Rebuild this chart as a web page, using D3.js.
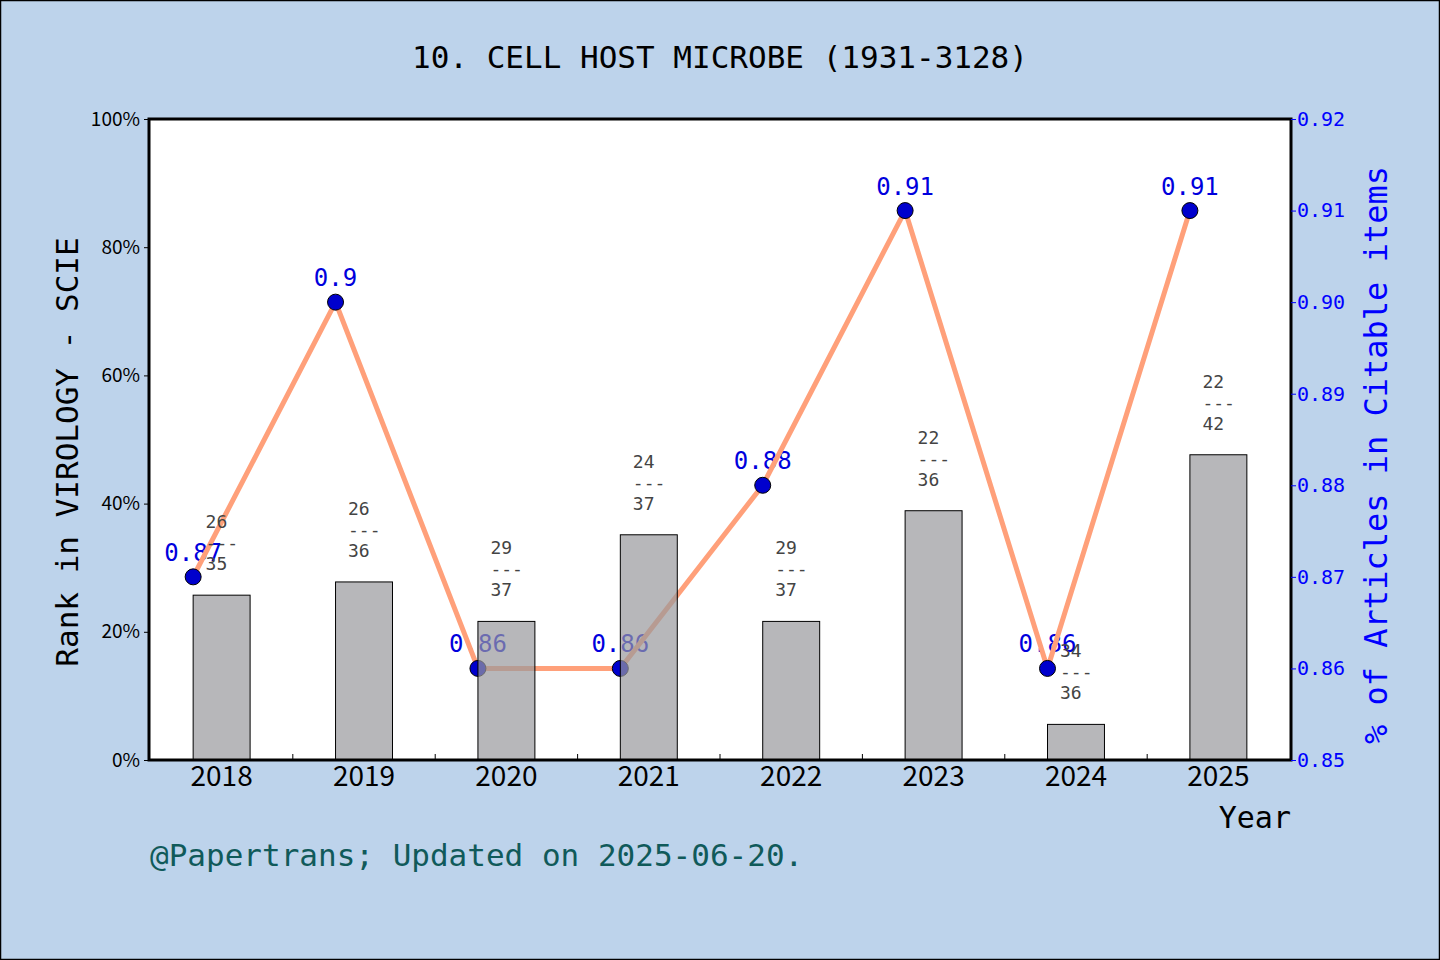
<!DOCTYPE html>
<html>
<head>
<meta charset="utf-8">
<script src="https://cdn.jsdelivr.net/npm/d3@7/dist/d3.min.js"></script>
<style>
  html, body { margin: 0; padding: 0; background: #bdd3eb; }
  svg { display: block; }
</style>
</head>
<body>
<script>
// chart data
var years = ["2018", "2019", "2020", "2021", "2022", "2023", "2024", "2025"];
var rank = [26, 26, 29, 24, 29, 22, 34, 22];
var total = [35, 36, 37, 37, 37, 36, 36, 42];
var citable = [0.87, 0.90, 0.86, 0.86, 0.88, 0.91, 0.86, 0.91];
var leftTicks = [0, 20, 40, 60, 80, 100];
var rightTicks = [0.85, 0.86, 0.87, 0.88, 0.89, 0.90, 0.91, 0.92];

var width = 1440, height = 960;
var plotLeft = 149, plotRight = 1291, plotTop = 119, plotBottom = 760;
var mono = "'DejaVu Sans Mono', monospace";
var sans = "'Noto Sans CJK SC', 'Noto Sans', sans-serif";

var data = years.map(function(y, i){
  return {year: y, rank: rank[i], total: total[i], pct: (total[i] - rank[i]) / total[i] * 100, cit: citable[i]};
});

var svg = d3.select("body").append("svg")
  .attr("width", width)
  .attr("height", height);

svg.append("rect")
  .attr("x", 0.5).attr("y", 0.5)
  .attr("width", width - 1).attr("height", height - 1)
  .attr("fill", "#bdd3eb")
  .attr("stroke", "#000").attr("stroke-width", 1.5);

svg.append("rect")
  .attr("x", plotLeft).attr("y", plotTop)
  .attr("width", plotRight - plotLeft).attr("height", plotBottom - plotTop)
  .attr("fill", "#fff");

var xScale = d3.scaleBand().domain(years).range([plotLeft, plotRight])
  .paddingInner(0.6).paddingOuter(0.31);
var yLeft = d3.scaleLinear().domain([0, 100]).range([plotBottom, plotTop]);
var yRight = d3.scaleLinear().domain([0.85, 0.92]).range([plotBottom, plotTop]);

// title
svg.append("text")
  .attr("x", 720).attr("y", 68)
  .attr("text-anchor", "middle")
  .style("font-family", mono).style("font-size", "31px")
  .text("10. CELL HOST MICROBE (1931-3128)");

// line + points + labels (under the bars)
var line = d3.line()
  .x(function(d){ return xScale(d.year); })
  .y(function(d){ return yRight(d.cit); });

svg.append("g").selectAll("text").data(data).enter().append("text")
  .attr("x", function(d){ return xScale(d.year); })
  .attr("y", function(d){ return yRight(d.cit) - 16; })
  .attr("text-anchor", "middle")
  .attr("fill", "#0000dd")
  .style("font-family", mono).style("font-size", "24px")
  .text(function(d){ return d3.format(".2~f")(d.cit); });

svg.append("path").datum(data)
  .attr("d", line)
  .attr("fill", "none")
  .attr("stroke", "#ffa07a")
  .attr("stroke-width", 5)
  .attr("stroke-linejoin", "round");

svg.append("g").selectAll("circle").data(data).enter().append("circle")
  .attr("cx", function(d){ return xScale(d.year); })
  .attr("cy", function(d){ return yRight(d.cit); })
  .attr("r", 8)
  .attr("fill", "#0000cd")
  .attr("stroke", "#000").attr("stroke-width", 1);

// bars
svg.append("g").selectAll("rect").data(data).enter().append("rect")
  .attr("x", function(d){ return xScale(d.year); })
  .attr("y", function(d){ return yLeft(d.pct); })
  .attr("width", xScale.bandwidth())
  .attr("height", function(d){ return plotBottom - yLeft(d.pct); })
  .attr("fill", "rgb(152,153,156)")
  .attr("fill-opacity", 0.7)
  .attr("stroke", "#000").attr("stroke-width", 1);

// rank labels
var lab = svg.append("g").selectAll("text").data(data).enter().append("text")
  .attr("fill", "#444")
  .style("font-family", mono).style("font-size", "18px");
lab.each(function(d){
  var t = d3.select(this);
  var x0 = xScale(d.year) + xScale.bandwidth() / 2 - 16;
  var yb = yLeft(d.pct) - 31;
  t.append("tspan").attr("x", x0).attr("y", yb - 42 + 6).text(d.rank);
  t.append("tspan").attr("x", x0).attr("y", yb - 21 + 6).text("---");
  t.append("tspan").attr("x", x0).attr("y", yb + 6).text(d.total);
});

// frame
svg.append("rect")
  .attr("x", plotLeft).attr("y", plotTop)
  .attr("width", plotRight - plotLeft).attr("height", plotBottom - plotTop)
  .attr("fill", "none")
  .attr("stroke", "#000").attr("stroke-width", 3);

// left axis
var gl = svg.append("g").attr("transform", "translate(" + plotLeft + ",0)")
  .call(d3.axisLeft(yLeft).tickValues(leftTicks).tickSize(5).tickPadding(4)
    .tickFormat(function(d){ return d + "%"; }));
gl.select(".domain").remove();
gl.selectAll("line").attr("stroke", "#000");
gl.selectAll("text").style("font-family", sans).style("font-size", "19px").attr("fill", "#000");

// right axis
var gr = svg.append("g").attr("transform", "translate(" + plotRight + ",0)")
  .call(d3.axisRight(yRight).tickValues(rightTicks).tickSize(5).tickPadding(1)
    .tickFormat(d3.format(".2f")));
gr.select(".domain").remove();
gr.selectAll("line").attr("stroke", "#0000ff");
gr.selectAll("text").style("font-family", mono).style("font-size", "20px").attr("fill", "#0000ff");

// bottom axis
var gb = svg.append("g").attr("transform", "translate(0," + plotBottom + ")")
  .call(d3.axisBottom(xScale).tickSize(0).tickPadding(6));
gb.select(".domain").remove();
gb.selectAll("text").style("font-family", sans).style("font-size", "28px").attr("fill", "#000");

var step = xScale.step();
svg.append("g").selectAll("line").data(years.slice(0, -1)).enter().append("line")
  .attr("x1", function(d){ return xScale(d) + xScale.bandwidth() + (step - xScale.bandwidth()) / 2; })
  .attr("x2", function(d){ return xScale(d) + xScale.bandwidth() + (step - xScale.bandwidth()) / 2; })
  .attr("y1", plotBottom).attr("y2", plotBottom - 6)
  .attr("stroke", "#000");

// axis titles
svg.append("text")
  .attr("transform", "translate(78,452) rotate(-90)")
  .attr("text-anchor", "middle")
  .style("font-family", mono).style("font-size", "31px")
  .text("Rank in VIROLOGY - SCIE");

svg.append("text")
  .attr("transform", "translate(1387,455) rotate(-90)")
  .attr("text-anchor", "middle")
  .attr("fill", "#0000ff")
  .style("font-family", mono).style("font-size", "32px")
  .text("% of Articles in Citable items");

svg.append("text")
  .attr("x", plotRight).attr("y", 828)
  .attr("text-anchor", "end")
  .style("font-family", mono).style("font-size", "30px")
  .text("Year");

svg.append("text")
  .attr("x", 150).attr("y", 866)
  .attr("fill", "#105a5a")
  .style("font-family", mono).style("font-size", "31px")
  .text("@Papertrans; Updated on 2025-06-20.");
</script>
</body>
</html>
